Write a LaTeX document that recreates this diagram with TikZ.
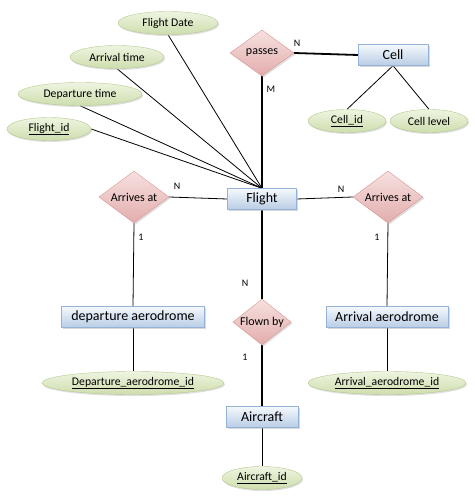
\documentclass[tikz,border=0pt]{standalone}
\usepackage{fontspec}
\setmainfont{Carlito}
\usetikzlibrary{shapes.geometric,shadows,backgrounds}
\definecolor{entB}{HTML}{95B3D7}
\definecolor{entT}{HTML}{F4F8FC}
\definecolor{entL}{HTML}{B9CDE5}
\definecolor{relB}{HTML}{D99694}
\definecolor{relT}{HTML}{F6E1E0}
\definecolor{relL}{HTML}{E2ADAC}
\definecolor{attB}{HTML}{B5C98E}
\definecolor{attT}{HTML}{EEF4E0}
\definecolor{attL}{HTML}{CEDEAE}
\tikzset{
  entity/.style={rectangle, draw=entB, top color=entT, bottom color=entL, minimum height=21pt, inner sep=2pt, font=\fontsize{14}{16}\selectfont, drop shadow={shadow xshift=1.5pt, shadow yshift=-1.5pt, fill=black!30}},
  relation/.style={diamond, draw=relB, top color=relT, bottom color=relL, aspect=1.4, inner sep=0pt, font=\fontsize{12}{14}\selectfont, drop shadow={shadow xshift=1.5pt, shadow yshift=-1.5pt, fill=black!25}},
  attrib/.style={ellipse, draw=attB, top color=attT, bottom color=attL, minimum height=23pt, inner sep=0pt, font=\fontsize{11.7}{13}\selectfont, drop shadow={shadow xshift=1pt, shadow yshift=-1.5pt, fill=black!25}},
  thin/.style={draw=black, line width=0.8pt},
  thick/.style={draw=black, line width=1.8pt},
  card/.style={font=\fontsize{10}{12}\selectfont, inner sep=0pt}
}
\begin{document}
\begin{tikzpicture}[x=1pt,y=-1pt]
\useasboundingbox (0,0) rectangle (474,502);
% attributes
\node[attrib, minimum width=100pt] (fdate) at (168,23) {Flight Date};
\node[attrib, minimum width=94pt] (atime) at (117,57) {Arrival time};
\node[attrib, minimum width=124pt] (dtime) at (80,94) {Departure time};
\node[attrib, minimum width=84pt] (fid) at (49,129) {\underline{Flight\_id}};
\node[attrib, minimum width=78pt] (cid) at (347,121) {\underline{Cell\_id}};
\node[attrib, minimum width=78pt] (clevel) at (429,121) {Cell level};
\node[attrib, minimum width=182pt] (depid) at (133,383) {\underline{Departure\_aerodrome\_id}};
\node[attrib, minimum width=158pt] (arrid) at (387,383) {\underline{Arrival\_aerodrome\_id}};
\node[attrib, minimum width=80pt] (acid) at (262,478) {\underline{Aircraft\_id}};
% entities
\node[entity, minimum width=70pt] (cell) at (393,55) {Cell};
\node[entity, minimum width=69pt] (flight) at (262,199) {Flight};
\node[entity, minimum width=143pt] (dep) at (133,317) {departure aerodrome};
\node[entity, minimum width=122pt] (arr) at (387,317) {Arrival aerodrome};
\node[entity, minimum width=72pt] (aircraft) at (262,417) {Aircraft};
% relations
\node[relation, minimum width=64pt, minimum height=46pt] (passes) at (262,53) {passes};
\node[relation, minimum width=70pt, minimum height=52pt] (arrL) at (134,197) {Arrives at};
\node[relation, minimum width=70pt, minimum height=52pt] (arrR) at (388,197) {Arrives at};
\node[relation, minimum width=56pt, minimum height=46pt] (flown) at (262,322) {Flown by};
% connectors
\begin{scope}[on background layer]
\draw[thin] (fdate.south) -- (flight.north);
\draw[thin] (atime.south) -- (flight.north);
\draw[thin] (dtime.south) -- (flight.north);
\draw[thin] (fid.east) -- (flight.north);
\draw[thick] (passes.south) -- (flight.north);
\draw[thick] (passes.east) -- (cell.west);
\draw[thin] (cell.south) -- (cid.north);
\draw[thin] (cell.south) -- (clevel.north);
\draw[thin] (arrL.east) -- (flight.west);
\draw[thin] (arrR.west) -- (flight.east);
\draw[thin] (arrL.south) -- (dep.north);
\draw[thin] (arrR.south) -- (arr.north);
\draw[thick] (flight.south) -- (flown.north);
\draw[thick] (flown.south) -- (aircraft.north);
\draw[thin] (dep.south) -- (depid.north);
\draw[thin] (arr.south) -- (arrid.north);
\draw[thin] (aircraft.south) -- (acid.north);
\end{scope}
% cardinalities
\node[card] (c1) at (297,43) {N};
\node[card] (c2) at (271,89) {M};
\node[card] (c3) at (177,186) {N};
\node[card] (c4) at (141,237) {1};
\node[card] (c5) at (341,189) {N};
\node[card] (c6) at (377,237) {1};
\node[card] (c7) at (245,283) {N};
\node[card] (c8) at (245,357) {1};
\end{tikzpicture}
\end{document}
